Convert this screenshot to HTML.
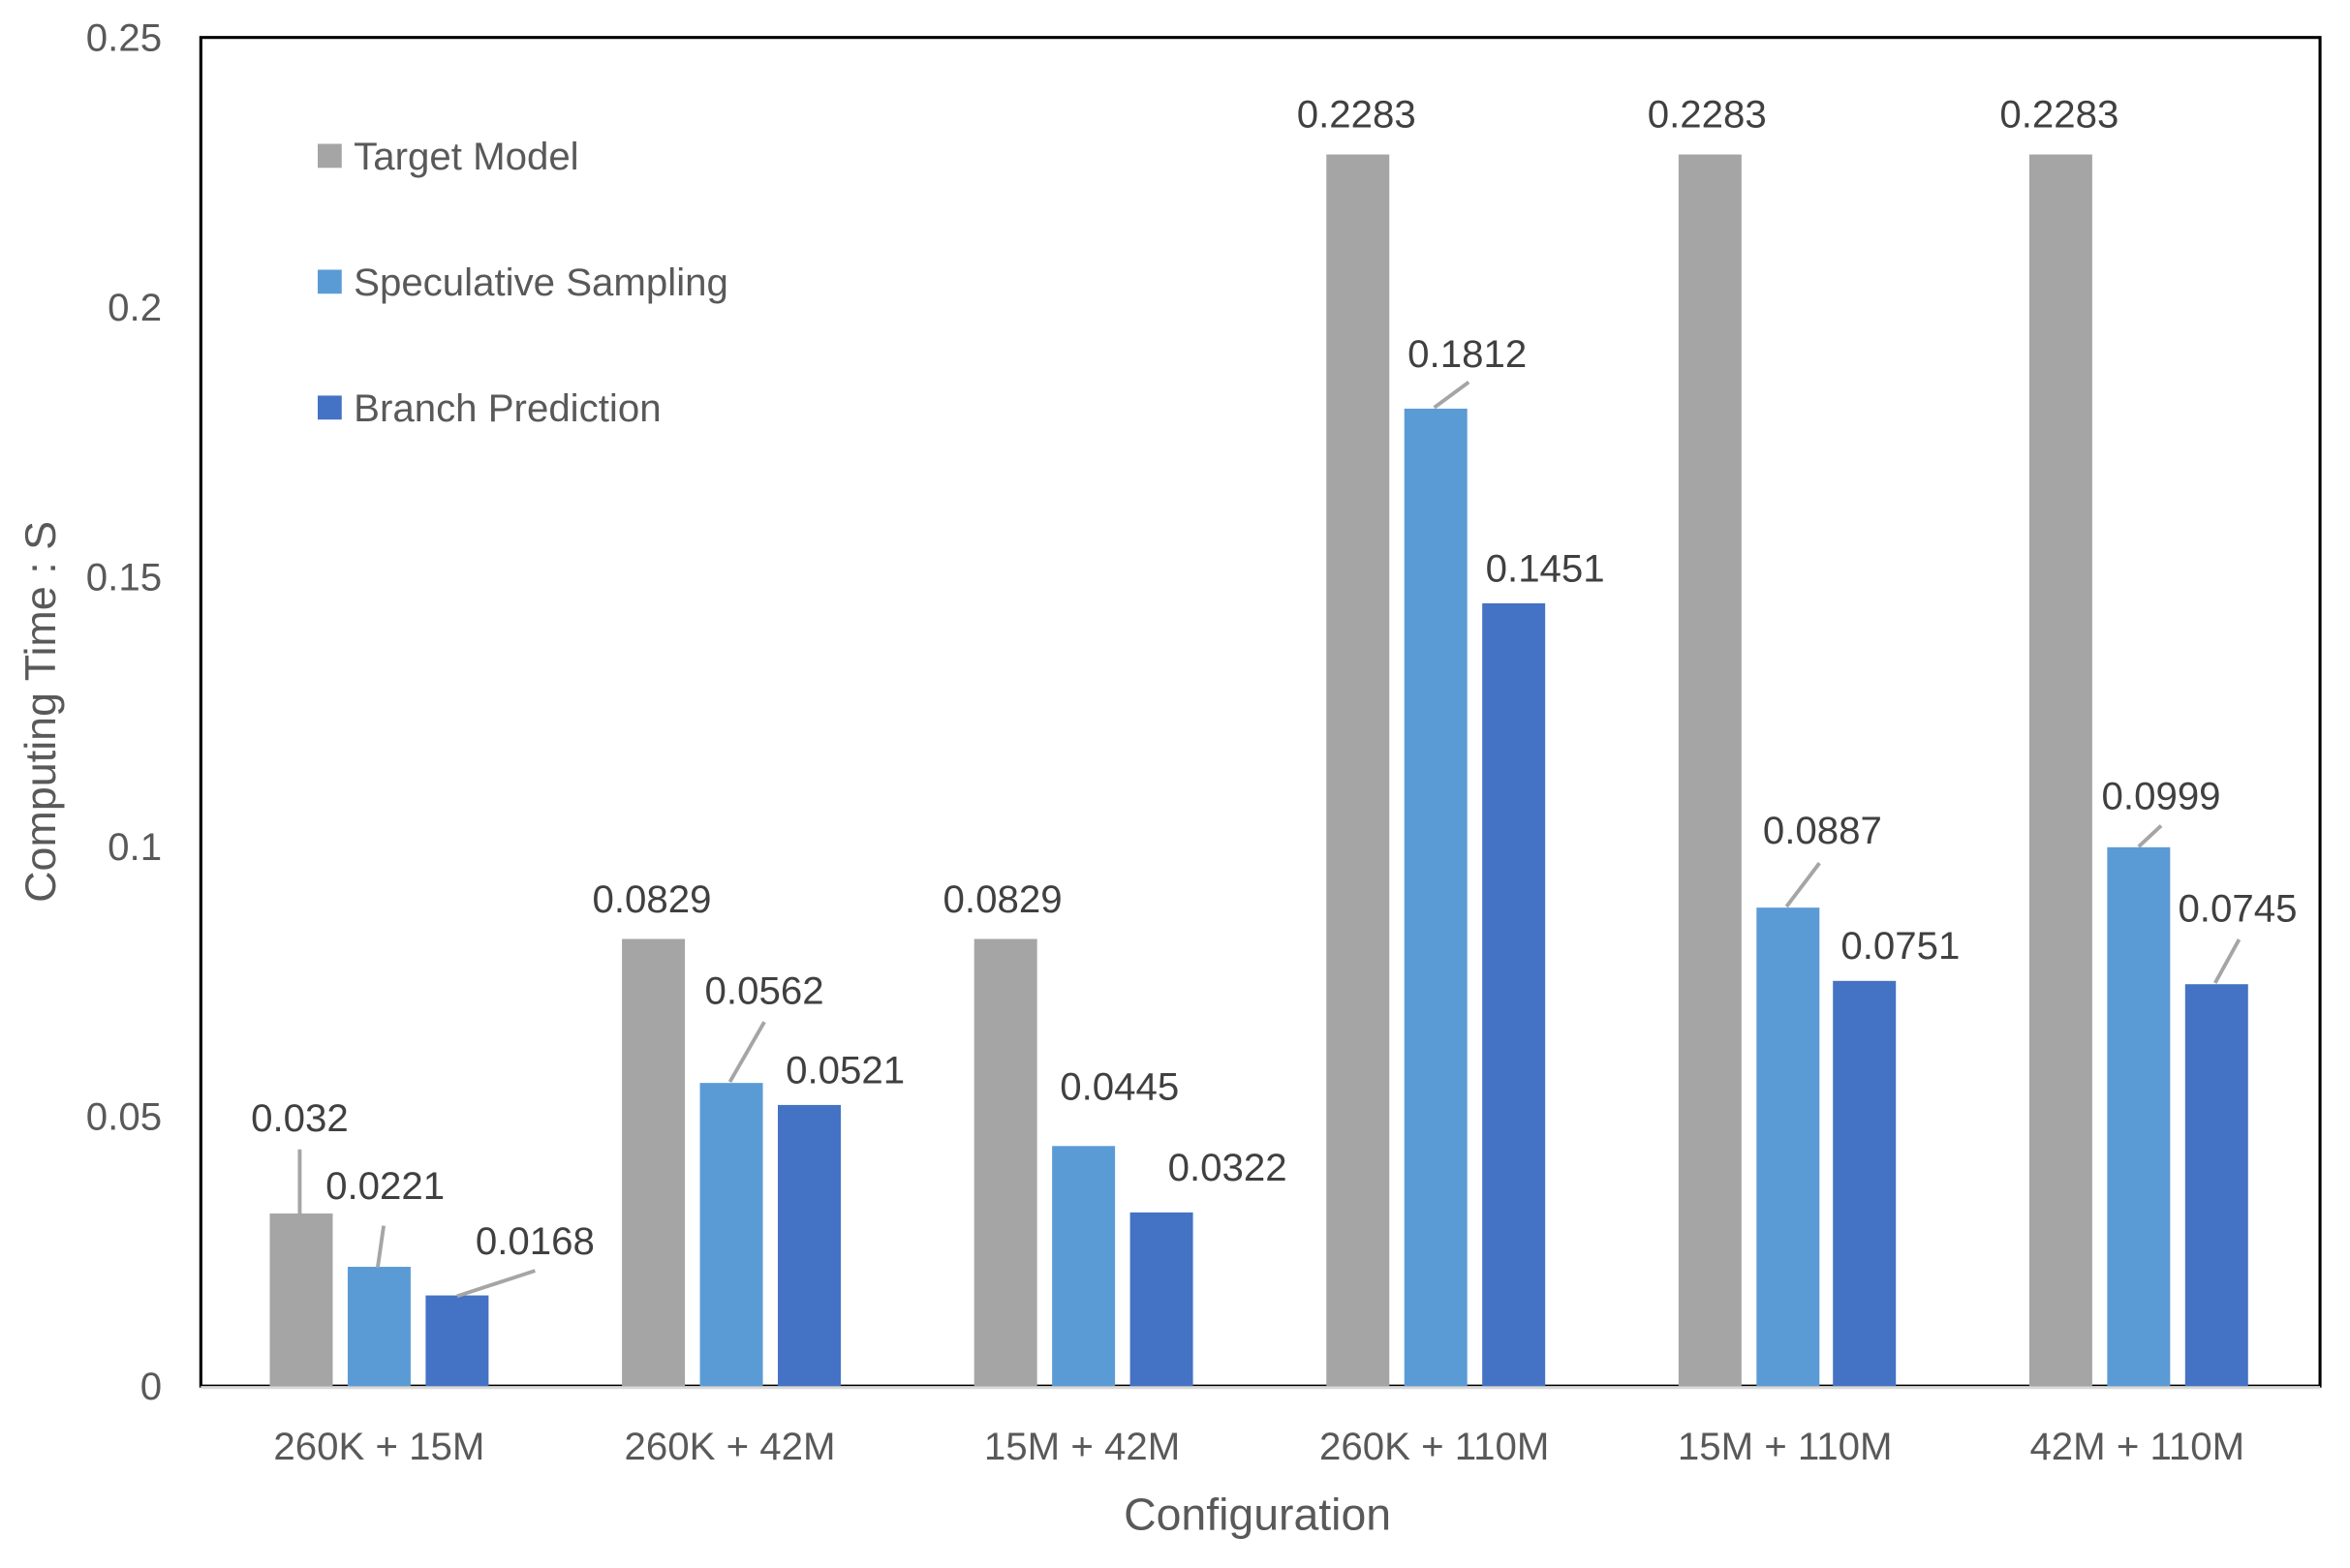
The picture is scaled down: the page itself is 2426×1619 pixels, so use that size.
<!DOCTYPE html>
<html><head><meta charset="utf-8"><style>html,body{margin:0;padding:0;background:#fff}svg{display:block}</style></head>
<body>
<svg width="2426" height="1619" viewBox="0 0 1568 1046.4" preserveAspectRatio="none" xmlns="http://www.w3.org/2000/svg" font-family="'Liberation Sans', sans-serif">
<rect width="1568" height="1047" fill="#fff"/>
<!-- frame -->
<rect x="134" y="25" width="1414" height="900" fill="none" stroke="#000" stroke-width="2"/>
<line x1="134" y1="926" x2="1548" y2="926" stroke="#d9d9d9" stroke-width="2"/>
<!-- y tick labels -->
<g fill="#595959" font-size="26" text-anchor="end">
<text x="108" y="34">0.25</text>
<text x="108" y="214">0.2</text>
<text x="108" y="394">0.15</text>
<text x="108" y="574">0.1</text>
<text x="108" y="754">0.05</text>
<text x="108" y="934">0</text>
</g>
<text transform="translate(37,475) rotate(-90)" fill="#595959" font-size="29" text-anchor="middle">Computing Time : S</text>
<!-- x labels -->
<g fill="#595959" font-size="26" text-anchor="middle">
<text x="253" y="974">260K + 15M</text>
<text x="487" y="974">260K + 42M</text>
<text x="722" y="974">15M + 42M</text>
<text x="957" y="974">260K + 110M</text>
<text x="1191" y="974">15M + 110M</text>
<text x="1426" y="974">42M + 110M</text>
</g>
<text x="839" y="1021" fill="#595959" font-size="30" text-anchor="middle">Configuration</text>
<!-- legend -->
<rect x="212" y="96" width="16" height="16" fill="#a5a5a5"/>
<rect x="212" y="180" width="16" height="16" fill="#5b9bd5"/>
<rect x="212" y="264" width="16" height="16" fill="#4472c4"/>
<g fill="#595959" font-size="26">
<text x="236" y="113">Target Model</text>
<text x="236" y="197">Speculative Sampling</text>
<text x="236" y="281">Branch Prediction</text>
</g>
<!-- bars -->
<g>
<rect x="180" y="809.8" width="42" height="115.2" fill="#a5a5a5"/>
<rect x="232" y="845.4" width="42" height="79.6" fill="#5b9bd5"/>
<rect x="284" y="864.5" width="42" height="60.5" fill="#4472c4"/>
<rect x="415" y="626.6" width="42" height="298.4" fill="#a5a5a5"/>
<rect x="467" y="722.7" width="42" height="202.3" fill="#5b9bd5"/>
<rect x="519" y="737.4" width="42" height="187.6" fill="#4472c4"/>
<rect x="650" y="626.6" width="42" height="298.4" fill="#a5a5a5"/>
<rect x="702" y="764.8" width="42" height="160.2" fill="#5b9bd5"/>
<rect x="754" y="809.1" width="42" height="115.9" fill="#4472c4"/>
<rect x="885" y="103.1" width="42" height="821.9" fill="#a5a5a5"/>
<rect x="937" y="272.7" width="42" height="652.3" fill="#5b9bd5"/>
<rect x="989" y="402.6" width="42" height="522.4" fill="#4472c4"/>
<rect x="1120" y="103.1" width="42" height="821.9" fill="#a5a5a5"/>
<rect x="1172" y="605.7" width="42" height="319.3" fill="#5b9bd5"/>
<rect x="1223" y="654.6" width="42" height="270.4" fill="#4472c4"/>
<rect x="1354" y="103.1" width="42" height="821.9" fill="#a5a5a5"/>
<rect x="1406" y="565.4" width="42" height="359.6" fill="#5b9bd5"/>
<rect x="1458" y="656.8" width="42" height="268.2" fill="#4472c4"/>
</g>
<!-- leader lines -->
<g stroke="#a5a5a5" stroke-width="2.5">
<line x1="200" y1="810" x2="200" y2="767"/>
<line x1="252" y1="846" x2="256" y2="818"/>
<line x1="305" y1="865" x2="357" y2="848"/>
<line x1="487" y1="722" x2="510" y2="682"/>
<line x1="957" y1="272" x2="980" y2="255"/>
<line x1="1192" y1="605" x2="1214" y2="576"/>
<line x1="1427" y1="565" x2="1442" y2="551"/>
<line x1="1478" y1="656" x2="1494" y2="627"/>
</g>
<!-- data labels -->
<g fill="#404040" font-size="26" text-anchor="middle">
<text x="200" y="755">0.032</text>
<text x="257" y="800">0.0221</text>
<text x="357" y="837">0.0168</text>
<text x="435" y="609">0.0829</text>
<text x="510" y="670">0.0562</text>
<text x="564" y="723">0.0521</text>
<text x="669" y="609">0.0829</text>
<text x="747" y="734">0.0445</text>
<text x="819" y="788">0.0322</text>
<text x="905" y="85">0.2283</text>
<text x="979" y="245">0.1812</text>
<text x="1031" y="388">0.1451</text>
<text x="1139" y="85">0.2283</text>
<text x="1216" y="563">0.0887</text>
<text x="1268" y="640">0.0751</text>
<text x="1374" y="85">0.2283</text>
<text x="1442" y="540">0.0999</text>
<text x="1493" y="615">0.0745</text>
</g>
</svg>
</body></html>
